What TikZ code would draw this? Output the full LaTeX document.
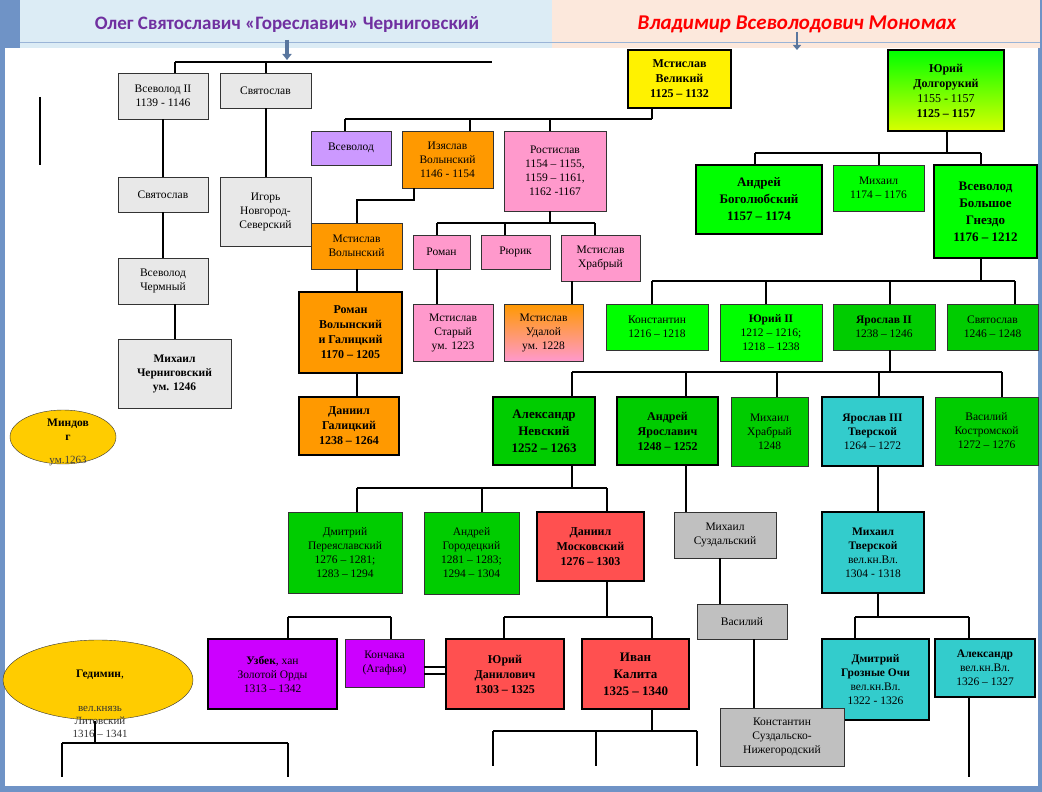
\documentclass[tikz,border=0pt]{standalone}
\usepackage{fontspec}
\setmainfont{Liberation Serif}
\newfontfamily\titlefont{Carlito}
\usetikzlibrary{positioning,arrows.meta,shapes.geometric}

\definecolor{greyfill}{HTML}{E8E8E8}
\definecolor{silverfill}{HTML}{C0C0C0}
\definecolor{lilac}{HTML}{CC99FF}
\definecolor{orangefill}{HTML}{FF9900}
\definecolor{pinkfill}{HTML}{FF99CC}
\definecolor{limefill}{HTML}{00FF00}
\definecolor{grassfill}{HTML}{00CC00}
\definecolor{tealfill}{HTML}{33CCCC}
\definecolor{redfill}{HTML}{FF5050}
\definecolor{violetfill}{HTML}{CC00FF}
\definecolor{goldfill}{HTML}{FFCC00}
\definecolor{headblue}{HTML}{DCECF5}
\definecolor{headpeach}{HTML}{FCE8DC}
\definecolor{framblue}{HTML}{6F93C6}
\definecolor{titlepurple}{HTML}{7030A0}

\tikzset{
  person/.style={draw=black!80, line width=0.8pt, inner sep=1pt, align=center,
    font=\fontsize{11.5}{14}\selectfont},
  ruler/.style={person, line width=2.6pt, draw=black, font=\bfseries\fontsize{12}{15}\selectfont},
  link/.style={line width=2pt, black},
}
% box from corners (x1,y1)-(x2,y2)
\newcommand\pbox[7]{\node[#2, anchor=center, minimum width={(#5-#3)*1pt}, minimum height={(#6-#4)*1pt}]
  (#1) at ({(#3+#5)/2},{(#4+#6)/2}) {#7};}
\newcommand\drop[3]{\draw[link] (#2,#3) -- (#1.north -| #2,0);}
\newcommand\rise[3]{\draw[link] (#1.south -| #2,0) -- (#2,#3);}

\begin{document}
\begin{tikzpicture}[x=1pt, y=-1pt]
\useasboundingbox (0,0) rectangle (1042,792);
% background
\fill[framblue] (0,0) rectangle (1042,792);
\fill[headblue] (20,0) rectangle (552,48);
\fill[headpeach] (552,0) rectangle (1040,48);
\fill[white] (5,48) rectangle (1038,786);
\draw[framblue!70, line width=0.6pt] (20,42) -- (1040,42);
\node[font=\titlefont\bfseries\fontsize{19}{22}\selectfont, text=titlepurple] (oleg) at (287,25) {Олег Святославич «Гореславич» Черниговский};
\node[font=\titlefont\bfseries\itshape\fontsize{21}{24}\selectfont, text=red] (monomakh) at (797,24) {Владимир Всеволодович Мономах};
\draw[-{Triangle[width=9pt,length=6pt]}, line width=4pt, framblue!80!black] (287,40) -- (287,60);
\draw[-{Triangle[width=8pt,length=5pt]}, line width=2.5pt, framblue!80!black] (797,32) -- (797,50);

% Chernigov line
\pbox{vsevII}{person, fill=greyfill}{118}{73}{208}{119}{Всеволод II\\1139 - 1146}
\pbox{svyatA}{person, fill=greyfill}{220}{73}{311}{108}{Святослав}
\pbox{svyatB}{person, fill=greyfill}{118}{177}{208}{212}{Святослав}
\pbox{igor}{person, fill=greyfill}{220}{177}{311}{246}{Игорь\\Новгород-\\Северский}
\pbox{chermny}{person, fill=greyfill}{118}{258}{208}{304}{Всеволод\\Чермный}
\pbox{mikhch}{person, fill=greyfill, font=\bfseries\fontsize{11.5}{14}\selectfont}{118}{339}{231}{408}{Михаил\\Черниговский\\ум. 1246}
\draw[link] (175,62) -- (492,62);
\drop{vsevII}{175}{62}
\drop{svyatA}{266}{62}
\draw[link] (vsevII) -- (svyatB);
\draw[link] (svyatB) -- (chermny);
\draw[link] (chermny.south -| 175,0) -- (mikhch.north -| 175,0);
\draw[link] (svyatA) -- (igor);
\draw[line width=2.5pt] (40,97) -- (40,165);

% Mstislav line
\pbox{mstvel}{ruler, fill=yellow}{628}{50}{731}{108}{Мстислав\\Великий\\1125 – 1132}
\pbox{vsevp}{person, fill=lilac}{311}{131}{391}{165}{Всеволод}
\pbox{izyaslav}{person, fill=orangefill}{402}{131}{493}{188}{Изяслав\\Волынский\\1146 - 1154}
\pbox{rostislav}{person, fill=pinkfill}{504}{131}{606}{211}{Ростислав\\1154 – 1155,\\1159 – 1161,\\1162 -1167}
\rise{mstvel}{652}{119}
\draw[link] (652,119) -- (345,119);
\drop{vsevp}{345}{119}
\drop{izyaslav}{470}{119}
\drop{rostislav}{550}{119}
\pbox{mstvol}{person, fill=orangefill}{311}{223}{402}{269}{Мстислав\\Волынский}
\pbox{romanvol}{ruler, fill=orangefill}{299}{292}{402}{373}{Роман\\Волынский\\и Галицкий\\1170 – 1205}
\pbox{daniilg}{ruler, fill=orangefill}{299}{397}{399}{455}{Даниил\\Галицкий\\1238 – 1264}
\draw[link] (izyaslav.south -| 414,0) -- (414,200) -- (357,200) -- (mstvol.north -| 357,0);
\draw[link] (mstvol.south -| 357,0) -- (romanvol.north -| 357,0);
\draw[link] (romanvol.south -| 357,0) -- (daniilg.north -| 357,0);
\pbox{roman}{person, fill=pinkfill}{413}{235}{470}{269}{Роман}
\pbox{ryurik}{person, fill=pinkfill}{481}{235}{550}{269}{Рюрик}
\pbox{mstkh}{person, fill=pinkfill}{561}{235}{640}{281}{Мстислав\\Храбрый}
\pbox{mstst}{person, fill=pinkfill}{413}{304}{493}{361}{Мстислав\\Старый\\ум. 1223}
\pbox{mstud}{person, top color=orangefill, bottom color=pinkfill}{504}{304}{583}{361}{Мстислав\\Удалой\\ум. 1228}
\rise{rostislav}{550}{223}
\draw[link] (437,223) -- (595,223);
\drop{roman}{437}{223}
\drop{ryurik}{505}{223}
\drop{mstkh}{595}{223}
\draw[link] (roman.south -| 437,0) -- (mstst.north -| 437,0);
\draw[link] (mstkh.south -| 572,0) -- (mstud.north -| 572,0);

% Yuri line
\pbox{yuri}{ruler, top color=limefill, bottom color=yellow!85!limefill}{888}{50}{1004}{131}{Юрий\\Долгорукий\\{\mdseries 1155 - 1157}\\1125 – 1157}
\pbox{andreib}{ruler, fill=limefill, font=\bfseries\fontsize{13}{17}\selectfont}{696}{165}{822}{234}{Андрей\\Боголюбский\\1157 – 1174}
\pbox{mikhail}{person, fill=limefill}{833}{165}{924}{211}{Михаил\\1174 – 1176}
\pbox{vsevbg}{ruler, fill=limefill, font=\bfseries\fontsize{13}{17}\selectfont}{934}{165}{1037}{258}{Всеволод\\Большое\\Гнездо\\1176 – 1212}
\rise{yuri}{947}{153}
\draw[link] (755,153) -- (981,153);
\drop{andreib}{755}{153}
\drop{mikhail}{879}{153}
\drop{vsevbg}{981}{153}
\pbox{konst}{person, fill=limefill}{606}{304}{708}{350}{Константин\\1216 – 1218}
\pbox{yuriII}{person, fill=limefill}{720}{304}{822}{361}{\textbf{Юрий II}\\1212 – 1216;\\1218 – 1238}
\pbox{yarII}{person, fill=grassfill}{833}{304}{935}{350}{\textbf{Ярослав II}\\1238 – 1246}
\pbox{svyatC}{person, fill=grassfill}{947}{304}{1038}{350}{Святослав\\1246 – 1248}
\rise{vsevbg}{981}{281}
\draw[link] (652,281) -- (1015,281);
\drop{konst}{652}{281}
\drop{yuriII}{766}{281}
\drop{yarII}{890}{281}
\drop{svyatC}{1015}{281}

% sons of Yaroslav II
\pbox{nevsky}{ruler, fill=grassfill, font=\bfseries\fontsize{13}{17}\selectfont}{493}{397}{595}{465}{Александр\\Невский\\1252 – 1263}
\pbox{andreiy}{ruler, fill=grassfill}{617}{397}{718}{465}{Андрей\\Ярославич\\1248 – 1252}
\pbox{mikhkh}{person, fill=grassfill}{731}{397}{808}{466}{Михаил\\Храбрый\\1248}
\pbox{yarIII}{ruler, fill=tealfill, font=\fontsize{11.5}{14}\selectfont}{822}{397}{923}{466}{\textbf{Ярослав III}\\\textbf{Тверской}\\1264 – 1272}
\pbox{vasilyk}{person, fill=grassfill}{935}{397}{1038}{465}{Василий\\Костромской\\1272 – 1276}
\rise{yarII}{890}{372}
\draw[link] (572,372) -- (1002,372);
\drop{nevsky}{572}{372}
\drop{andreiy}{686}{372}
\drop{mikhkh}{777}{372}
\drop{yarIII}{879}{372}
\drop{vasilyk}{1002}{372}

% sons of Nevsky
\pbox{dmitryp}{person, fill=grassfill}{288}{512}{402}{593}{Дмитрий\\Переяславский\\1276 – 1281;\\1283 – 1294}
\pbox{andreig}{person, fill=grassfill}{424}{512}{519}{594}{Андрей\\Городецкий\\1281 – 1283;\\1294 – 1304}
\pbox{daniilm}{ruler, fill=redfill}{537}{512}{644}{581}{Даниил\\Московский\\1276 – 1303}
\rise{nevsky}{572}{488}
\draw[link] (357,488) -- (607,488);
\drop{dmitryp}{357}{488}
\drop{andreig}{482}{488}
\drop{daniilm}{607}{488}

% Suzdal line
\pbox{mikhs}{person, fill=silverfill}{674}{512}{776}{558}{Михаил\\Суздальский}
\pbox{vasilys}{person, fill=silverfill}{697}{604}{787}{639}{Василий}
\draw[link] (andreiy.south -| 686,0) -- (mikhs.north -| 686,0);
\draw[link] (mikhs.south -| 720,0) -- (vasilys.north -| 720,0);

% Tver line
\pbox{mikht}{ruler, fill=tealfill, font=\fontsize{11.5}{14}\selectfont}{822}{512}{924}{593}{\textbf{Михаил}\\\textbf{Тверской}\\вел.кн.Вл.\\1304 - 1318}
\draw[link] (yarIII.south -| 878,0) -- (mikht.north -| 878,0);
\pbox{dmitryg}{ruler, fill=tealfill, font=\fontsize{11.5}{14}\selectfont}{822}{639}{929}{720}{\textbf{Дмитрий}\\\textbf{Грозные Очи}\\вел.кн.Вл.\\1322 - 1326}
\pbox{aleksandrt}{ruler, fill=tealfill, font=\fontsize{11.5}{14}\selectfont}{935}{639}{1035}{697}{\textbf{Александр}\\вел.кн.Вл.\\1326 – 1327}
\rise{mikht}{878}{617}
\draw[link] (855,617) -- (969,617);
\drop{dmitryg}{855}{617}
\drop{aleksandrt}{969}{617}
\coordinate (tverend) at (969,777);
\draw[link] (aleksandrt.south -| 969,0) -- (tverend);
\pbox{konsts}{person, fill=silverfill}{720}{708}{844}{766}{Константин\\Суздальско-\\Нижегородский}
\draw[link] (vasilys.south -| 754,0) -- (konsts.north -| 754,0);

% Moscow line
\pbox{yurid}{ruler, fill=redfill}{446}{639}{564}{709}{Юрий\\Данилович\\1303 – 1325}
\pbox{ivan}{ruler, fill=redfill, font=\bfseries\fontsize{13}{17}\selectfont}{582}{639}{689}{709}{Иван\\Калита\\1325 – 1340}
\rise{daniilm}{607}{617}
\draw[link] (504,617) -- (652,617);
\drop{yurid}{504}{617}
\drop{ivan}{652}{617}
\rise{ivan}{652}{731}
\draw[link] (493,731) -- (697,731);
\coordinate (ivanA) at (493,766);
\coordinate (ivanB) at (596,766);
\coordinate (ivanC) at (697,766);
\draw[link] (493,731) -- (ivanA);
\draw[link] (596,731) -- (ivanB);
\draw[link] (697,731) -- (ivanC);

% Horde
\pbox{uzbek}{ruler, fill=violetfill, font=\fontsize{11.5}{14}\selectfont}{208}{639}{337}{709}{\textbf{Узбек}, хан\\Золотой Орды\\1313 – 1342}
\pbox{konchaka}{person, fill=violetfill}{345}{639}{424}{687}{Кончака\\(Агафья)}
\draw[link] (288,617) -- (391,617);
\drop{uzbek}{288}{617}
\drop{konchaka}{391}{617}
\draw[line width=1.6pt] (konchaka.east |- 0,667) -- (yurid.west |- 0,667);
\draw[line width=1.6pt] (konchaka.east |- 0,674) -- (yurid.west |- 0,674);

% Lithuania
\node[ellipse, draw=black!80, fill=goldfill, minimum width=106pt, minimum height=54pt] (mindovg) at (63,437) {};
\node[font=\bfseries\fontsize{11.5}{14}\selectfont, align=center] (mindovgname) at (68,430) {Миндов\\г};
\node[font=\fontsize{11}{13}\selectfont, text=black!75] (mindovgdate) at (68,461) {ум.1263};
\node[ellipse, draw=black!80, fill=goldfill, minimum width=190pt, minimum height=80pt] (gedimin) at (98,680) {};
\node[font=\fontsize{11.5}{14}\selectfont] (gediminname) at (100,675) {\textbf{Гедимин},};
\node[font=\fontsize{11}{13}\selectfont, align=center, text=black!80] (gedimintext) at (100,722) {вел.князь\\Литовский\\1316 – 1341};
\draw[link] (95,721) -- (95,743);
\draw[link] (62,743) -- (288,743);
\coordinate (gedA) at (62,777);
\coordinate (gedB) at (288,777);
\draw[link] (62,743) -- (gedA);
\draw[link] (288,743) -- (gedB);
\end{tikzpicture}
\end{document}
